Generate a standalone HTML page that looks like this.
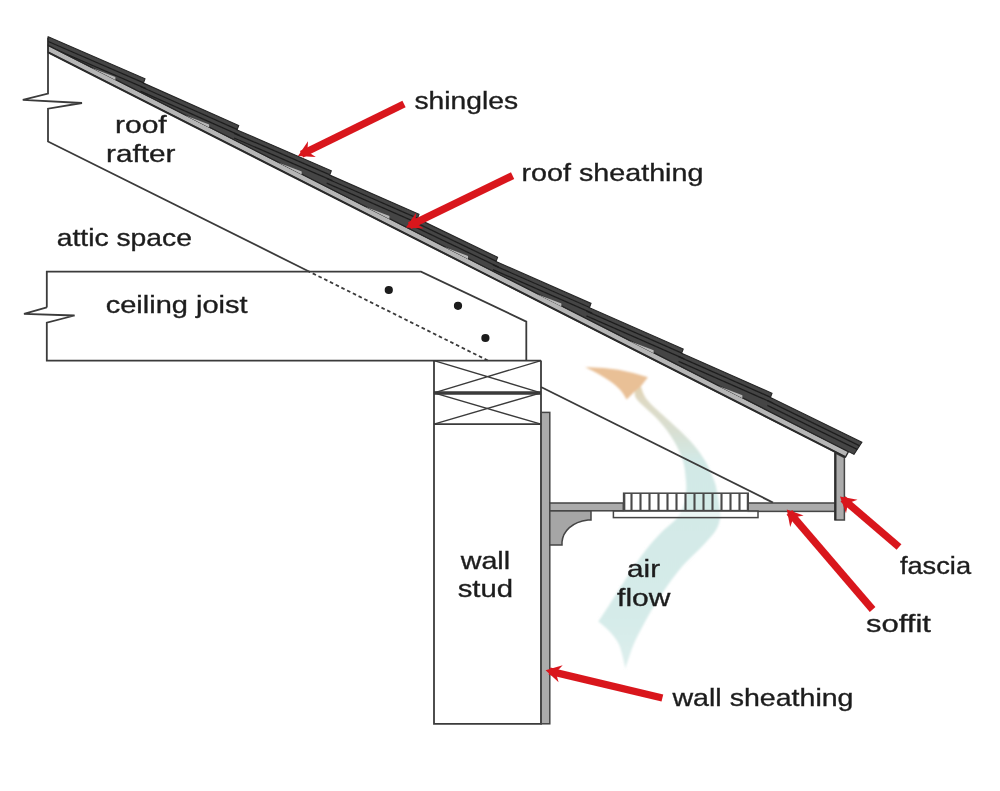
<!DOCTYPE html>
<html><head><meta charset="utf-8"><title>Roof eave section</title>
<style>
html,body{margin:0;padding:0;background:#fff;}
body{width:1000px;height:791px;overflow:hidden;font-family:"Liberation Sans",sans-serif;}
svg{display:block;}
text{font-family:"Liberation Sans",sans-serif;fill:#1e1e1e;stroke:#1e1e1e;stroke-width:0.35px;}
</style></head><body>
<svg width="1000" height="791" viewBox="0 0 1000 791">
<defs>
<linearGradient id="air" gradientUnits="userSpaceOnUse" x1="0" y1="386" x2="0" y2="672">
<stop offset="0" stop-color="#e2d2b0"/>
<stop offset="0.05" stop-color="#deD9c4"/>
<stop offset="0.16" stop-color="#d8dfd2"/>
<stop offset="0.26" stop-color="#d2e9e6"/>
<stop offset="0.80" stop-color="#d5ebe9"/>
<stop offset="1" stop-color="#ddefed"/>
</linearGradient>
<filter id="soft" x="-5%" y="-5%" width="110%" height="110%"><feGaussianBlur stdDeviation="0.55"/></filter>
<filter id="soft2" x="-5%" y="-5%" width="110%" height="110%"><feGaussianBlur stdDeviation="1.0"/></filter>
</defs>
<rect width="1000" height="791" fill="#ffffff"/>
<g filter="url(#soft)">

<!-- air flow -->
<g filter="url(#soft2)">
<path fill="url(#air)" d="M640.8,386.4 C641.9,388.7 642.8,394.5 647.5,400.2 C652.2,405.9 661.7,413.8 668.8,420.5 C675.9,427.2 683.9,434.0 690.0,440.7 C696.1,447.4 701.2,454.2 705.2,460.9 C709.2,467.6 712.3,475.7 714.3,481.1 C716.3,486.5 716.3,488.5 717.3,493.3 C718.2,498.1 719.5,505.9 720.0,510.0 C720.5,514.1 720.9,514.6 720.2,518.0 C719.5,521.4 718.7,525.8 715.7,530.5 C712.7,535.2 707.3,540.7 702.0,546.4 C696.7,552.1 689.5,558.1 683.8,564.6 C678.1,571.1 672.8,578.3 667.9,585.1 C663.0,591.9 658.4,598.8 654.2,605.6 C650.0,612.4 646.2,619.7 642.8,626.1 C639.4,632.5 636.2,638.6 633.7,644.3 C631.2,650.0 629.5,656.0 628.0,660.2 C626.5,664.4 625.5,667.8 625.0,669.3 C624.9,668.5 625.6,669.0 624.6,664.8 C623.6,660.6 621.5,650.0 618.9,644.3 C616.2,638.6 612.1,634.4 608.7,630.6 C605.3,626.8 600.1,623.0 598.4,621.5 C600.9,617.7 608.1,606.8 613.2,598.8 C618.3,590.8 623.9,581.7 629.2,573.7 C634.5,565.7 639.8,557.8 645.1,551.0 C650.4,544.2 655.7,538.3 661.0,532.8 C666.3,527.3 673.2,522.6 677.0,518.0 C680.8,513.4 682.5,509.2 684.0,505.0 C685.5,500.8 685.7,497.0 686.0,493.0 C686.3,489.0 686.5,486.3 686.0,481.0 C685.5,475.7 685.0,467.7 683.0,461.0 C681.0,454.3 677.8,447.4 673.8,440.7 C669.8,433.9 664.8,427.3 658.7,420.5 C652.6,413.7 641.4,404.8 637.4,400.0 C633.4,395.2 635.2,392.9 634.7,391.5Z"/>
<path fill="#e9c096" d="M585.2,367.2 Q616.5,366.5 647.9,377.3 L640.3,387 L634.2,392 L626.6,399.6 Q621.5,389 610.5,381.6 Q600,374 585.2,367.2Z"/>
</g>

<!-- rafter -->
<g fill="none" stroke="#3a3a3a" stroke-width="1.8" stroke-linejoin="miter">
<path d="M48,37.4 L48,93.5 L22.8,99.8 L82,103 L48,108.7 L48,141.5 L307,270.5"/>
<path d="M541,387.0 L773,502.6"/>
<path d="M307,270.5 L488,360.6" stroke-dasharray="3.6 2.8" stroke-width="1.8"/>
<!-- ceiling joist -->
<path d="M46.8,307.4 L46.8,271.6 L421,271.6 L526.3,321.6 L526.3,360.6 M541,360.6 L46.8,360.6 L46.8,322.6 L74.6,315.5 L24,313.8 L46.8,307.4"/>
<!-- plates + stud -->
<path d="M434,360.6 L434,723.8 L541,723.8 L541,360.6 M434,392.2 L541,392.2 M434,393.8 L541,393.8 M434,424.2 L541,424.2"/>
<path d="M434,360.6 L541,392.8 M541,360.6 L434,392.8 M434,392.8 L541,424.2 M541,392.8 L434,424.2" stroke-width="1.4"/>
</g>
<g fill="#1a1a1a"><circle cx="388.8" cy="290" r="4.1"/><circle cx="458" cy="305.8" r="4.1"/><circle cx="485.4" cy="338" r="4.1"/></g>

<!-- wall sheathing, soffit, fascia, crown -->
<g fill="#ababab" stroke="#444" stroke-width="1.5">
<rect x="541.2" y="412.4" width="8.6" height="311.4"/>
<path d="M549.8,510.6 L591,510.6 L591,520 L588,520 C572,522 563,531 562,542 L562,545 L549.8,545Z" fill="#a6a6a6"/>
<rect x="549.8" y="503" width="73.6" height="7.8"/>
<rect x="748.2" y="503" width="87" height="8.4"/>
<path d="M835,452.8 L844.4,457.5 L844.4,520 L835,520Z"/>
</g>
<line x1="835.4" y1="452.8" x2="835.4" y2="520" stroke="#2e2e2e" stroke-width="2.2"/>
<!-- vent -->
<g fill="none" stroke="#444" stroke-width="1.5">
<rect x="623.6" y="493.2" width="124.6" height="17.4"/>
<rect x="613.4" y="511" width="144.6" height="6.6" fill="#fff" fill-opacity="0.55"/>
</g>
<g stroke="#4a4a4a" stroke-width="2.1"><line x1="624.3" y1="493.2" x2="624.3" y2="510.4"/><line x1="631.5" y1="493.2" x2="631.5" y2="510.4"/><line x1="640.5" y1="493.2" x2="640.5" y2="510.4"/><line x1="649.5" y1="493.2" x2="649.5" y2="510.4"/><line x1="658.5" y1="493.2" x2="658.5" y2="510.4"/><line x1="667.5" y1="493.2" x2="667.5" y2="510.4"/><line x1="676.5" y1="493.2" x2="676.5" y2="510.4"/><line x1="685.5" y1="493.2" x2="685.5" y2="510.4"/><line x1="694.5" y1="493.2" x2="694.5" y2="510.4"/><line x1="703.5" y1="493.2" x2="703.5" y2="510.4"/><line x1="712.5" y1="493.2" x2="712.5" y2="510.4"/><line x1="721.5" y1="493.2" x2="721.5" y2="510.4"/><line x1="730.5" y1="493.2" x2="730.5" y2="510.4"/><line x1="739.5" y1="493.2" x2="739.5" y2="510.4"/><line x1="747.8" y1="493.2" x2="747.8" y2="510.4"/></g>

<!-- roof -->
<path d="M48.2,45.3 L848.5,451.6 L845.5,457.1 L48.2,52.3Z" fill="#b6b6b6" stroke="#2b2b2b" stroke-width="1.4"/>
<path d="M48.2,36.8 L145.0,78.8 L143.4,83.1 L238.7,125.6 L237.1,129.9 L331.3,170.8 L329.7,175.1 L419.0,214.3 L417.4,218.6 L497.6,257.2 L496.0,261.5 L591.0,303.4 L589.4,307.7 L683.2,349.0 L681.6,353.3 L772.0,393.2 L770.4,397.5 L861.9,442.2 L854.0,454.4 L48.2,45.3Z" fill="#454545" stroke="#262626" stroke-width="1.1"/>
<clipPath id="shc"><path d="M48.2,36.8 L145.0,78.8 L143.4,83.1 L238.7,125.6 L237.1,129.9 L331.3,170.8 L329.7,175.1 L419.0,214.3 L417.4,218.6 L497.6,257.2 L496.0,261.5 L591.0,303.4 L589.4,307.7 L683.2,349.0 L681.6,353.3 L772.0,393.2 L770.4,397.5 L861.9,442.2 L854.0,454.4 L48.2,45.3Z"/></clipPath>
<g stroke="#1f1f1f" stroke-width="1.3" clip-path="url(#shc)"><line x1="45.2" y1="40.2" x2="146.0" y2="83.9"/>
<line x1="45.2" y1="44.9" x2="146.0" y2="88.6"/>
<line x1="140.4" y1="86.5" x2="239.7" y2="130.7"/>
<line x1="140.4" y1="91.2" x2="239.7" y2="135.4"/>
<line x1="234.1" y1="133.3" x2="332.3" y2="175.9"/>
<line x1="234.1" y1="138.0" x2="332.3" y2="180.6"/>
<line x1="326.7" y1="178.5" x2="420.0" y2="219.4"/>
<line x1="326.7" y1="183.2" x2="420.0" y2="224.1"/>
<line x1="414.4" y1="221.9" x2="498.6" y2="262.4"/>
<line x1="414.4" y1="226.6" x2="498.6" y2="267.1"/>
<line x1="493.0" y1="264.9" x2="592.0" y2="308.5"/>
<line x1="493.0" y1="269.6" x2="592.0" y2="313.2"/>
<line x1="586.4" y1="311.1" x2="684.2" y2="354.1"/>
<line x1="586.4" y1="315.8" x2="684.2" y2="358.8"/>
<line x1="678.6" y1="356.7" x2="773.0" y2="398.3"/>
<line x1="678.6" y1="361.4" x2="773.0" y2="403.0"/>
<line x1="767.4" y1="400.7" x2="862.9" y2="447.4"/>
<line x1="767.4" y1="405.4" x2="862.9" y2="452.1"/></g>
<g fill="#b8b8b8"><path d="M91.4,67.7 L115.4,77.0 L115.4,79.9Z"/>
<path d="M185.1,115.3 L209.1,124.6 L209.1,127.5Z"/>
<path d="M277.7,162.3 L301.7,171.6 L301.7,174.5Z"/>
<path d="M365.4,206.8 L389.4,216.1 L389.4,219.0Z"/>
<path d="M444.0,246.7 L468.0,256.0 L468.0,258.9Z"/>
<path d="M537.4,294.2 L561.4,303.5 L561.4,306.4Z"/>
<path d="M629.6,341.0 L653.6,350.3 L653.6,353.2Z"/>
<path d="M718.4,386.1 L742.4,395.3 L742.4,398.2Z"/></g>
<line x1="48.2" y1="52.3" x2="845" y2="456.8" stroke="#2b2b2b" stroke-width="2"/>

<!-- arrows -->
<line x1="404.0" y1="104.0" x2="301.6" y2="154.2" stroke="#d9161e" stroke-width="7.4"/><path d="M298.0,156.0 L308.0,141.3 L307.4,151.4 L315.8,157.1Z" fill="#d9161e"/>
<line x1="512.6" y1="175.6" x2="409.6" y2="225.7" stroke="#d9161e" stroke-width="7.4"/><path d="M406.0,227.5 L416.1,212.8 L415.4,222.9 L423.8,228.6Z" fill="#d9161e"/>
<line x1="899.0" y1="547.0" x2="843.0" y2="499.0" stroke="#d9161e" stroke-width="7.4"/><path d="M840.0,496.4 L857.5,499.8 L848.0,503.2 L846.0,513.2Z" fill="#d9161e"/>
<line x1="872.6" y1="609.5" x2="789.4" y2="512.4" stroke="#d9161e" stroke-width="7.4"/><path d="M786.8,509.4 L803.6,515.4 L793.6,517.4 L790.2,526.9Z" fill="#d9161e"/>
<line x1="662.4" y1="698.0" x2="549.5" y2="671.1" stroke="#d9161e" stroke-width="7.4"/><path d="M545.6,670.2 L562.7,665.2 L555.8,672.6 L558.6,682.3Z" fill="#d9161e"/>

<!-- labels -->
<text x="414.4" y="109.3" textLength="103.7" lengthAdjust="spacingAndGlyphs" font-size="24.4">shingles</text>
<text x="521.5" y="180.7" textLength="181.9" lengthAdjust="spacingAndGlyphs" font-size="24.4">roof sheathing</text>
<text x="115.0" y="133.2" textLength="51.7" lengthAdjust="spacingAndGlyphs" font-size="24.4">roof</text>
<text x="106.1" y="161.8" textLength="69.4" lengthAdjust="spacingAndGlyphs" font-size="24.4">rafter</text>
<text x="56.7" y="245.5" textLength="135.2" lengthAdjust="spacingAndGlyphs" font-size="24.4">attic space</text>
<text x="105.7" y="313.0" textLength="141.9" lengthAdjust="spacingAndGlyphs" font-size="24.4">ceiling joist</text>
<text x="460.7" y="569.0" textLength="49.4" lengthAdjust="spacingAndGlyphs" font-size="24.4">wall</text>
<text x="457.7" y="597.3" textLength="55.4" lengthAdjust="spacingAndGlyphs" font-size="24.4">stud</text>
<text x="627.1" y="577.3" textLength="33.0" lengthAdjust="spacingAndGlyphs" font-size="24.4">air</text>
<text x="617.1" y="605.7" textLength="53.3" lengthAdjust="spacingAndGlyphs" font-size="24.4">flow</text>
<text x="899.9" y="574.4" textLength="71.2" lengthAdjust="spacingAndGlyphs" font-size="24.4">fascia</text>
<text x="866.1" y="632.0" textLength="64.8" lengthAdjust="spacingAndGlyphs" font-size="24.4">soffit</text>
<text x="672.5" y="706.0" textLength="181.0" lengthAdjust="spacingAndGlyphs" font-size="24.4">wall sheathing</text>
</g>
</svg>
</body></html>
